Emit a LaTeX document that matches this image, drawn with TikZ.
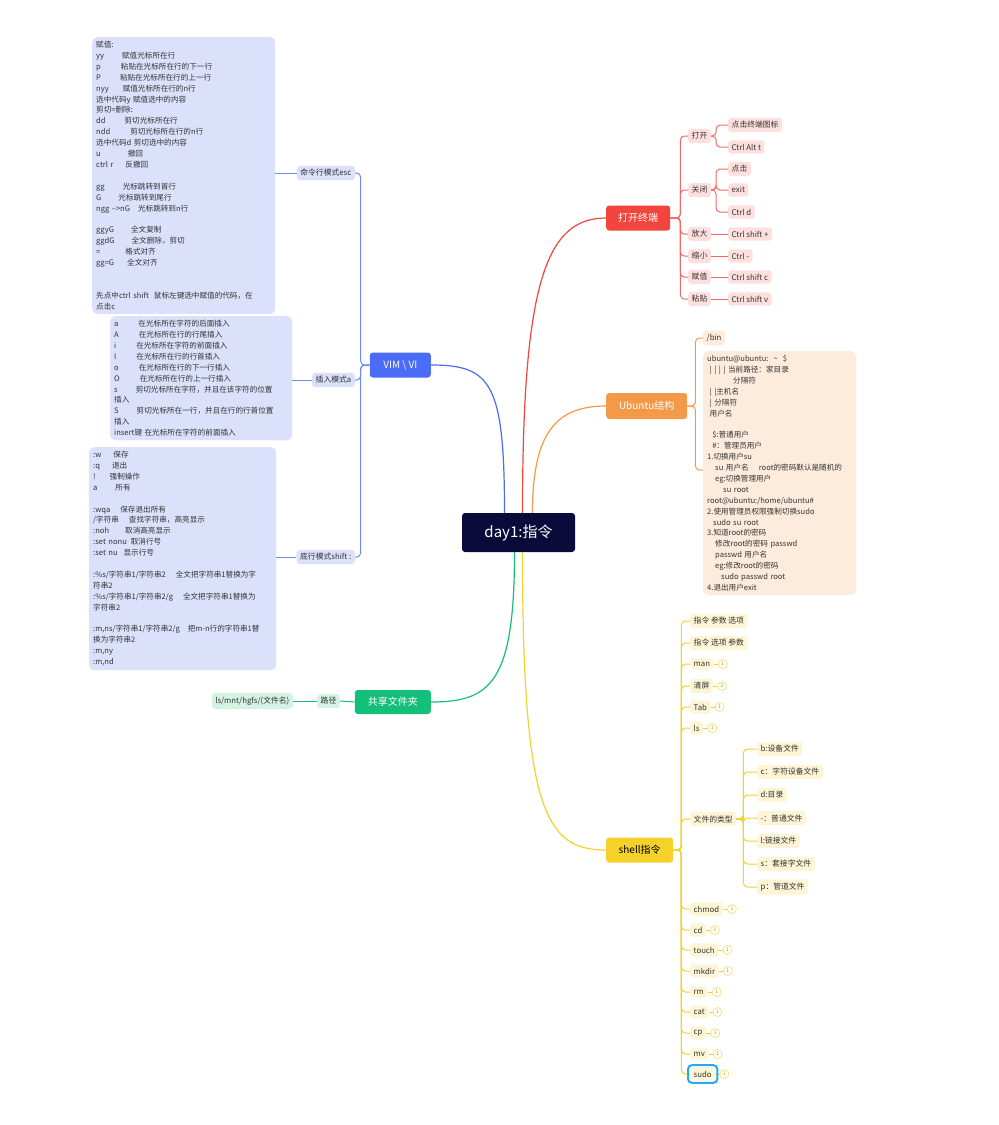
\documentclass[tikz,border=0pt]{standalone}
\usepackage{fontspec}
\setmainfont{Noto Sans CJK SC}
\definecolor{cR}{HTML}{F2453D}\definecolor{cRl}{HTML}{FDE0DE}\definecolor{cRline}{HTML}{F26A63}
\definecolor{cO}{HTML}{F39A4A}\definecolor{cOl}{HTML}{FDEBDC}
\definecolor{cY}{HTML}{F4D22A}\definecolor{cYl}{HTML}{FDF5D5}
\definecolor{cB}{HTML}{4A6CF7}\definecolor{cBl}{HTML}{DBE0FB}\definecolor{cBline}{HTML}{6E8AF7}
\definecolor{cG}{HTML}{14BF7A}\definecolor{cGl}{HTML}{D4F3E3}
\definecolor{navy}{HTML}{0B0B3B}\definecolor{txt}{HTML}{333333}
\definecolor{hl}{HTML}{29A8F0}
\newcommand{\fsz}[2]{\fontsize{#1}{#2}\selectfont}
\tikzset{
 box/.style={rounded corners=3pt,inner sep=3.5pt,font=\fsz{7.8}{9},text=txt,anchor=west},
 main/.style={rounded corners=3pt,inner sep=0pt,minimum height=25pt,font=\fsz{10}{12},text=white},
 blk/.style={rounded corners=5pt,inner sep=4pt,font=\fsz{7.6}{10.9},text=txt,align=left,fill=cBl},
 badge/.style={circle,draw=cY,fill=white,inner sep=0pt,minimum size=9pt,font=\fsz{5}{5},text=cY!70!black},
 lR/.style={draw=cRline,line width=1pt,rounded corners=4pt},
 lO/.style={draw=cO,line width=1pt,rounded corners=4pt},
 lY/.style={draw=cY,line width=1pt,rounded corners=4pt},
 lB/.style={draw=cBline,line width=1pt,rounded corners=4pt},
 lG/.style={draw=cG,line width=1pt,rounded corners=4pt},
}
\begin{document}
\begin{tikzpicture}[x=1pt,y=-1pt]
\useasboundingbox (0,0) rectangle (999,1125);
\fill[white] (0,0) rectangle (999,1125);
% root
\node[fill=navy,rounded corners=3pt,minimum width=113pt,minimum height=39pt,text=white,font=\fsz{15}{18}] (root) at (518.5,532.5) {day1:指令};
% main branches
\node[main,fill=cR,minimum width=64pt,anchor=west] (term) at (606,218) {打开终端};
\node[main,fill=cO,minimum width=81pt,anchor=west,minimum height=26pt] (ub) at (606,406) {Ubuntu结构};
\node[main,fill=cY,minimum width=67pt,anchor=west,text=black] (sh) at (606,850) {shell指令};
\node[main,fill=cB,minimum width=61pt,anchor=east] (vim) at (431,365) {VIM \textbackslash{} VI};
\node[main,fill=cG,minimum width=76pt,anchor=east,minimum height=24pt] (gf) at (431,702) {共享文件夹};
\draw[cR,line width=1.2pt] ([xshift=4pt]root.north) .. controls +(0,-230) and +(-60,0) .. (term.west);
\draw[cO,line width=1.2pt] ([xshift=14pt]root.north) .. controls +(0,-80) and +(-50,0) .. (ub.west);
\draw[cY,line width=1.2pt] ([xshift=4pt]root.south) .. controls +(0,260) and +(-60,0) .. (sh.west);
\draw[cB,line width=1.2pt] ([xshift=-14pt]root.north) .. controls +(0,-130) and +(60,0) .. (vim.east);
\draw[cG,line width=1.2pt] ([xshift=-4pt]root.south) .. controls +(0,130) and +(60,0) .. (gf.east);
% terminal
\node[box,fill=cRl] (o1) at (688,136) {打开};
\node[box,fill=cRl] (o2) at (688,190) {关闭};
\node[box,fill=cRl] (o3) at (688,234) {放大};
\node[box,fill=cRl] (o4) at (688,256) {缩小};
\node[box,fill=cRl] (o5) at (688,277) {赋值};
\node[box,fill=cRl] (o6) at (688,299) {粘贴};
\foreach \n in {o1,o2,o3,o4,o5,o6} \draw[lR] (term.east) -- ++(10,0) |- (\n.west);
\node[box,fill=cRl] (l1) at (728,125) {点击终端图标};
\node[box,fill=cRl] (l2) at (728,147) {Ctrl Alt t};
\node[box,fill=cRl] (l3) at (728,169) {点击};
\node[box,fill=cRl] (l4) at (728,190) {exit};
\node[box,fill=cRl] (l5) at (728,212) {Ctrl d};
\node[box,fill=cRl] (l6) at (728,234) {Ctrl shift +};
\node[box,fill=cRl] (l7) at (728,256) {Ctrl -};
\node[box,fill=cRl] (l8) at (728,277) {Ctrl shift c};
\node[box,fill=cRl] (l9) at (728,299) {Ctrl shift v};
\foreach \n in {l1,l2} \draw[lR] (o1.east) -- ++(5,0) |- (\n.west);
\foreach \n in {l3,l4,l5} \draw[lR] (o2.east) -- ++(5,0) |- (\n.west);
\draw[lR] (o3.east) -- (l6.west); \draw[lR] (o4.east) -- (l7.west);
\draw[lR] (o5.east) -- (l8.west); \draw[lR] (o6.east) -- (l9.west);
% ubuntu
\node[box,fill=cOl] (bin) at (703,338) {/bin};
\node[blk,fill=cOl,anchor=north west,text width=145pt] (ubb) at (703,351) {ubuntu@ubuntu:\ \ \textasciitilde\ \ \$\\
\ |\ |\ |\ |\ 当前路径：家目录\\
\hspace{26pt}分隔符\\
\ |\ |主机名\\
\ | 分隔符\\
\ 用户名\\
\mbox{}\\
\ \ \$:普通用户\\
\ \ \#：管理员用户\\
1.切换用户su\\
\hspace{8pt}su 用户名\ \ \ \ root的密码默认是随机的\\
\hspace{8pt}eg:切换管理用户\\
\hspace{16pt}su root\\
root@ubuntu:/home/ubuntu\#\\
2.使用管理员权限强制切换sudo\\
\hspace{6pt}sudo su root\\
3.知道root的密码\\
\hspace{8pt}修改root的密码 passwd\\
\hspace{8pt}passwd 用户名\\
\hspace{8pt}eg:修改root的密码\\
\hspace{14pt}sudo passwd root\\
4.退出用户exit};
\draw[lO] (ub.east) -- ++(8,0) |- (bin.west);
\draw[lO] (ub.east) -- ++(8,0) |- (703,470);
% shell
\foreach \n/\t/\y in {s1/指令 参数 选项/621,s2/指令 选项 参数/643,s3/man/664,s4/清屏/686,s5/Tab/707,s6/ls/728,s7/文件的类型/819,s8/chmod/909,s9/cd/930,s10/touch/950,s11/mkdir/971,s12/rm/992,s13/cat/1012,s14/cp/1033,s15/mv/1054,s16/sudo/1074}{
 \node[box,fill=cYl] (\n) at (690,\y) {\t};
 \draw[lY] (sh.east) -- ++(8,0) |- (\n.west);
}
\foreach \n/\v in {s3/1,s4/2,s5/1,s6/1,s8/1,s9/1,s10/1,s11/1,s12/1,s13/1,s14/1,s15/1,s16/1}{
 \node[badge] (b\n) at ([xshift=9pt]\n.east) {\v};
 \draw[cY,line width=0.8pt] (\n.east) -- (b\n.west);
}
\draw[hl,line width=2pt,rounded corners=4pt] ([shift={(-2pt,-2pt)}]s16.south west) rectangle ([shift={(2pt,2pt)}]s16.north east);
\foreach \n/\t/\y in {f1/b:设备文件/749,f2/c：字符设备文件/772,f3/d:目录/795,f4/-：普通文件/818,f5/l:链接文件/841,f6/s：套接字文件/864,f7/p：管道文件/887}{
 \node[box,fill=cYl] (\n) at (757,\y) {\t};
 \draw[lY] (s7.east) -- ++(7,0) |- (\n.west);
}
% VIM
\node[box,fill=cBl,anchor=east] (cmd) at (355,173) {命令行模式esc};
\node[box,fill=cBl,anchor=east] (ins) at (355,380) {插入模式a};
\node[box,fill=cBl,anchor=east] (bot) at (355,557) {底行模式shift :};
\foreach \n in {cmd,ins,bot} \draw[lB] (vim.west) -- ++(-9,0) |- (\n.east);
\node[blk,anchor=north west,text width=175pt] (b1) at (92,37) {赋值:\\
yy\hspace{18pt}赋值光标所在行\\
p\hspace{20pt}粘贴在光标所在行的下一行\\
P\hspace{19pt}粘贴在光标所在行的上一行\\
nyy\hspace{14pt}赋值光标所在行的n行\\
选中代码y\ 赋值选中的内容\\
剪切=删除:\\
dd\hspace{19pt}剪切光标所在行\\
ndd\hspace{20pt}剪切光标所在行的n行\\
选中代码d\ 剪切选中的内容\\
u\hspace{27pt}撤回\\
ctrl r\hspace{12pt}反撤回\\
\mbox{}\\
gg\hspace{18pt}光标跳转到首行\\
G\hspace{17pt}光标跳转到尾行\\
ngg -->nG\hspace{8pt}光标跳转到n行\\
\mbox{}\\
ggyG\hspace{17pt}全文复制\\
ggdG\hspace{17pt}全文删除，剪切\\
=\hspace{25pt}格式对齐\\
gg=G\hspace{13pt}全文对齐\\
\mbox{}\\
\mbox{}\\
先点中ctrl shift\ \ 鼠标左键选中赋值的代码，在\\
点击c};
\node[blk,anchor=north west,text width=174pt] (b2) at (110,316) {a\hspace{20pt}在光标所在字符的后面插入\\
A\hspace{20pt}在光标所在行的行尾插入\\
i\hspace{20pt}在光标所在字符的前面插入\\
I\hspace{20pt}在光标所在行的行首插入\\
o\hspace{20pt}在光标所在行的下一行插入\\
O\hspace{20pt}在光标所在行的上一行插入\\
s\hspace{18pt}剪切光标所在字符，并且在该字符的位置\\
插入\\
S\hspace{18pt}剪切光标所在一行，并且在行的行首位置\\
插入\\
insert键\ 在光标所在字符的前面插入};
\node[blk,anchor=north west,text width=179pt] (b3) at (89,447) {:w\hspace{12pt}保存\\
:q\hspace{12pt}退出\\
!\hspace{14pt}强制操作\\
a\hspace{18pt}所有\\
\mbox{}\\
:wqa\hspace{10pt}保存退出所有\\
/字符串\hspace{10pt}查找字符串，高亮显示\\
:noh\hspace{16pt}取消高亮显示\\
:set nonu\hspace{4pt}取消行号\\
:set nu\hspace{6pt}显示行号\\
\mbox{}\\
:\%s/字符串1/字符串2\hspace{10pt}全文把字符串1替换为字\\
符串2\\
:\%s/字符串1/字符串2/g\hspace{10pt}全文把字符串1替换为\\
字符串2\\
\mbox{}\\
:m,ns/字符串1/字符串2/g\hspace{8pt}把m-n行的字符串1替\\
换为字符串2\\
:m,ny\\
:m,nd};
\draw[lB] (cmd.west) -- (b1.east |- cmd.west);
\draw[lB] (ins.west) -- (b2.east |- ins.west);
\draw[lB] (bot.west) -- (b3.east |- bot.west);
% shared folder
\node[box,fill=cGl,anchor=east] (lj) at (340,701) {路径};
\node[box,fill=cGl,anchor=east] (lp) at (293,701) {ls/mnt/hgfs/(文件名)};
\draw[lG] (gf.west) -- (lj.east);
\draw[lG] (lj.west) -- (lp.east);
\end{tikzpicture}
\end{document}
